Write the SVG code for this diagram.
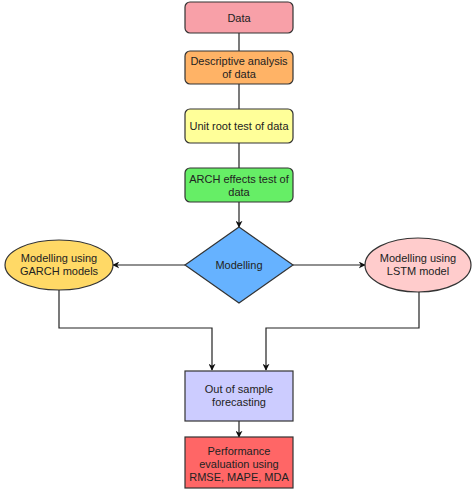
<svg xmlns="http://www.w3.org/2000/svg" width="474" height="504" viewBox="0 0 474 504">
<style>
.n{stroke:#333;stroke-width:1.2}
.t{font-family:"Liberation Sans",Arial,sans-serif;font-size:11px;fill:#222;text-anchor:middle}
.c{fill:none;stroke:#222;stroke-width:1.2}
</style>
<defs>
<marker id="a" viewBox="0 0 10 10" refX="9" refY="5" markerWidth="7" markerHeight="7" orient="auto" markerUnits="userSpaceOnUse">
<path d="M0,0 L10,5 L0,10 L3,5 z" fill="#111"/>
</marker>
</defs>
<rect width="474" height="504" fill="#fff"/>
<g id="connectors">
<line class="c" x1="239" y1="33" x2="239" y2="51"/>
<line class="c" x1="239" y1="84" x2="239" y2="109"/>
<line class="c" x1="239" y1="143" x2="239" y2="168"/>
<line class="c" x1="239" y1="202" x2="239" y2="227" marker-end="url(#a)"/>
<line class="c" x1="185" y1="265" x2="113" y2="265" marker-end="url(#a)"/>
<line class="c" x1="293" y1="265" x2="365" y2="265" marker-end="url(#a)"/>
<polyline class="c" points="59,290 59,328 212,328 212,370" marker-end="url(#a)"/>
<polyline class="c" points="419,292 419,328 266,328 266,370" marker-end="url(#a)"/>
<line class="c" x1="239" y1="421" x2="239" y2="437" marker-end="url(#a)"/>
</g>
<g id="data"><rect class="n" x="185" y="2" width="108" height="31" rx="5" fill="#f8a0a8"/><text class="t" x="239" y="21.5">Data</text></g>
<g id="descriptive"><rect class="n" x="185" y="51" width="108" height="33" rx="5" fill="#ffb366"/><text class="t" x="239" y="65">Descriptive analysis</text><text class="t" x="239" y="78">of data</text></g>
<g id="unitroot"><rect class="n" x="185" y="109" width="108" height="34" rx="5" fill="#ffff99"/><text class="t" x="239" y="130">Unit root test of data</text></g>
<g id="arch"><rect class="n" x="185" y="168" width="108" height="34" rx="5" fill="#66ee66"/><text class="t" x="239" y="183">ARCH effects test of</text><text class="t" x="239" y="196">data</text></g>
<g id="modelling"><polygon class="n" points="239,227 293,265 239,303 185,265" fill="#66b2ff"/><text class="t" x="239" y="269">Modelling</text></g>
<g id="garch"><ellipse class="n" cx="59" cy="265" rx="54" ry="25" fill="#ffd966"/><text class="t" x="59" y="262">Modelling using</text><text class="t" x="59" y="275">GARCH models</text></g>
<g id="lstm"><ellipse class="n" cx="418" cy="265" rx="53" ry="27" fill="#ffcccc"/><text class="t" x="418" y="262">Modelling using</text><text class="t" x="418" y="275">LSTM model</text></g>
<g id="forecast"><rect class="n" x="185" y="371" width="108" height="50" fill="#ccccff"/><text class="t" x="239" y="393">Out of sample</text><text class="t" x="239" y="406">forecasting</text></g>
<g id="perf"><rect class="n" x="185" y="437" width="108" height="51" fill="#ff6666"/><text class="t" x="239" y="455">Performance</text><text class="t" x="239" y="468">evaluation using</text><text class="t" x="239" y="481">RMSE, MAPE, MDA</text></g>
</svg>
